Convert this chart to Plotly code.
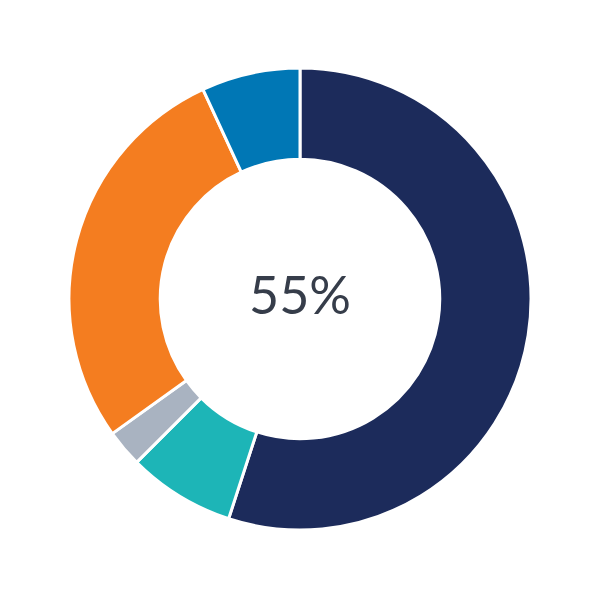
import plotly.graph_objects as go

labels = ["Navy", "Teal", "Gray", "Orange", "Blue"]
values = [55, 7.5, 2.6, 28, 6.9]
colors = ["#1c2b5b", "#1db5b7", "#a9b3c1", "#f47d20", "#0077b5"]
center_text = "55%"

fig = go.Figure(go.Pie(
    labels=labels,
    values=values,
    hole=0.605,
    sort=False,
    direction="clockwise",
    rotation=0,
    marker=dict(colors=colors, line=dict(color="white", width=3)),
    textinfo="none",
    hoverinfo="label+percent",
    showlegend=False,
))

fig.update_layout(
    width=600, height=599,
    margin=dict(l=61, r=77, t=60, b=77),
    paper_bgcolor="white",
    plot_bgcolor="white",
    annotations=[dict(text=center_text, x=0.5, y=0.5, xref="paper", yref="paper",
                      yshift=5,
                      showarrow=False, font=dict(family="Lato", size=52, color="#363d4a"))],
)

fig.write_html("out.html")
